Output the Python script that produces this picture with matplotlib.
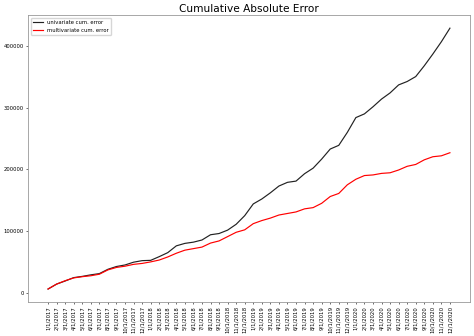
import matplotlib
matplotlib.use("Agg")
import matplotlib.pyplot as plt

# monthly dates, 1/1/2017 .. 12/1/2020
dates = ["%d/1/%d" % (m, y) for y in range(2017, 2021) for m in range(1, 13)]

univariate = [6000, 14000, 19000, 24500, 26500, 29000, 31000, 38000, 42500, 45000,
              49500, 52000, 52500, 58500, 65000, 76000, 80000, 82000, 85500, 94000,
              96000, 101500, 111000, 125000, 144000, 152000, 162000, 173000, 179000, 181000,
              193000, 202000, 216700, 233000, 239000, 260000, 284000, 290000, 301500, 314000,
              324000, 337000, 342500, 350500, 368000, 387000, 407000, 429000]

multivariate = [6000, 14000, 19500, 24000, 26000, 27500, 30000, 37000, 41000, 43000,
                46000, 47500, 50000, 53000, 58000, 64000, 69000, 71500, 74000, 80500,
                84000, 91000, 98000, 102000, 112000, 117000, 121000, 126000, 128500, 131000,
                136000, 138000, 145000, 156000, 161000, 175000, 184000, 190000, 191000, 193500,
                194500, 199000, 205000, 208000, 215500, 220500, 222000, 227000]

fig = plt.figure(figsize=(4.74, 3.36), dpi=100)
ax = fig.add_axes([0.059, 0.101, 0.9326, 0.854])

ax.plot(dates, univariate, color="#222222", lw=0.85, label="univariate cum. error")
ax.plot(dates, multivariate, color="red", lw=0.85, label="multivariate cum. error")

ax.set_title("Cumulative Absolute Error", fontsize=7.6, pad=2.5)
ax.set_yticks([0, 100000, 200000, 300000, 400000])
ax.tick_params(labelsize=3.8, length=1.3, width=0.4, pad=1.5)
ax.tick_params(axis="x", rotation=90)
for s in ax.spines.values():
    s.set_linewidth(0.6)
    s.set_color("#999999")

ax.legend(loc="upper left", fontsize=3.8, frameon=True)

fig.savefig("out.png", dpi=100)
